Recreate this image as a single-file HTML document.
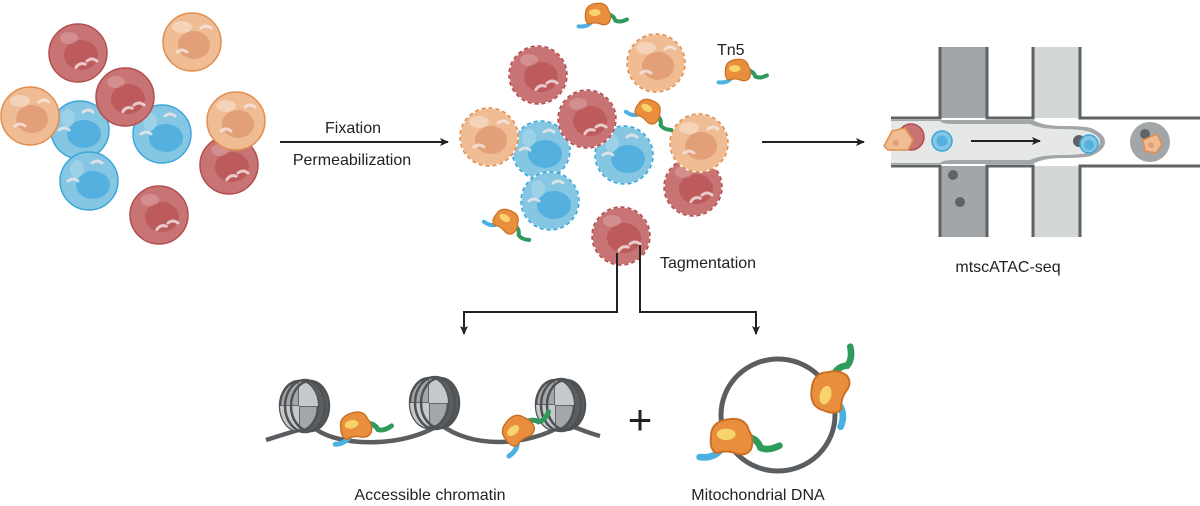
<!DOCTYPE html>
<html><head><meta charset="utf-8"><style>
html,body{margin:0;padding:0;background:#fff;}
svg{display:block}
text{font-family:"Liberation Sans",sans-serif;fill:#222;}
</style></head><body>
<svg width="1200" height="506" viewBox="0 0 1200 506" xmlns="http://www.w3.org/2000/svg">
<defs>
<g id="mito"><path d="M-5,0 q5,-4 10,0" stroke="#f4e7e7" stroke-width="3" fill="none" stroke-linecap="round" opacity="0.8"/></g>
<g id="red"><circle r="29" fill="#c87474" stroke="#b34e50" stroke-width="1.5"/><ellipse cx="3" cy="2" rx="17" ry="15" fill="#bd5a5c"/><ellipse cx="-9" cy="-15" rx="9" ry="6" fill="#fff" opacity="0.2"/><use href="#mito" x="-2" y="13" transform="rotate(-20)"/><use href="#mito" x="14" y="8"/></g>
<g id="org"><circle r="29" fill="#efbc93" stroke="#e28e4e" stroke-width="1.5"/><ellipse cx="2" cy="3" rx="16" ry="14" fill="#e39f77"/><ellipse cx="-10" cy="-15" rx="10" ry="6" fill="#fff" opacity="0.35"/><use href="#mito" x="14" y="-14"/><use href="#mito" x="-10" y="10"/></g>
<g id="blu"><circle r="29" fill="#85c6e2" stroke="#3da7db" stroke-width="1.5"/><ellipse cx="4" cy="4" rx="17" ry="14" fill="#54b0df"/><ellipse cx="-12" cy="-12" rx="7" ry="9" fill="#fff" opacity="0.2"/><use href="#mito" x="8" y="-18"/><use href="#mito" x="-16" y="0"/></g>
<g id="redd"><use href="#red"/><circle r="29" fill="none" stroke="#fff" stroke-width="1.6" stroke-dasharray="3 4"/></g>
<g id="orgd"><use href="#org"/><circle r="29" fill="none" stroke="#fff" stroke-width="1.6" stroke-dasharray="3 4"/></g>
<g id="blud"><use href="#blu"/><circle r="29" fill="none" stroke="#fff" stroke-width="1.6" stroke-dasharray="3 4"/></g>
<g id="tn5"><path d="M6,-2 q8,0 10,6 q4,2 10,-1" stroke="#2e9b5d" stroke-width="3.5" fill="none" stroke-linecap="round"/><path d="M-4,4 q-4,6 -12,5" stroke="#4bb1e2" stroke-width="3.5" fill="none" stroke-linecap="round"/><path d="M-10,-2 q0,-8 10,-9 q8,-1 10,6 q3,5 1,10 q-3,4 -8,2 q-5,-2 -10,0 q-4,-2 -3,-9z" fill="#e88e3c" stroke="#c96f25" stroke-width="1"/><ellipse cx="-2" cy="-3" rx="5" ry="3" fill="#f7d36a"/></g>
<g id="nuc"><ellipse cx="6" rx="20" ry="26" fill="#5b5e61"/><ellipse cx="-3" rx="19" ry="25" fill="#a3a7aa" stroke="#4f5254" stroke-width="2.5"/><path d="M-3,-25 v50 M-22,0 h38" stroke="#4f5254" stroke-width="1.5"/><path d="M-3,-25 a19 25 0 0 1 19 25 h-19z" fill="#c6c9cb"/><path d="M-3,0 h-19 a19 25 0 0 0 19 25z" fill="#c6c9cb"/><ellipse cx="3" rx="20" ry="26" fill="none" stroke="#4f5254" stroke-width="2.5"/><ellipse cx="8" rx="19" ry="25" fill="none" stroke="#4f5254" stroke-width="2.5"/></g>
<marker id="ah" markerWidth="10" markerHeight="10" refX="8" refY="5" orient="auto" markerUnits="userSpaceOnUse"><path d="M0,1 L9,5 L0,9 L2,5z" fill="#222"/></marker>
</defs>

<!-- left cluster -->
<use href="#red" x="78" y="53"/>
<use href="#org" x="192" y="42"/>
<use href="#blu" x="80" y="130"/>
<use href="#blu" x="162" y="134"/>
<use href="#red" x="125" y="97"/>
<use href="#org" x="30" y="116"/>
<use href="#red" x="229" y="165"/>
<use href="#org" x="236" y="121"/>
<use href="#blu" x="89" y="181"/>
<use href="#red" x="159" y="215"/>

<line x1="280" y1="142" x2="448" y2="142" stroke="#222" stroke-width="2" marker-end="url(#ah)"/>
<text x="353" y="133" font-size="16" text-anchor="middle">Fixation</text>
<text x="352" y="165" font-size="16" text-anchor="middle">Permeabilization</text>

<!-- center cluster -->
<use href="#redd" x="538" y="75"/>
<use href="#orgd" x="656" y="63"/>
<use href="#blud" x="541" y="150"/>
<use href="#blud" x="624" y="155"/>
<use href="#redd" x="587" y="119"/>
<use href="#orgd" x="489" y="137"/>
<use href="#redd" x="693" y="187"/>
<use href="#orgd" x="699" y="143"/>
<use href="#blud" x="550" y="201"/>
<use href="#redd" x="621" y="236"/>
<g transform="translate(597 16) scale(1.15)"><use href="#tn5"/></g>
<g transform="translate(737 72) scale(1.15)"><use href="#tn5"/></g>
<g transform="translate(647 112) rotate(30) scale(1.15)"><use href="#tn5"/></g>
<g transform="translate(505 222) rotate(30) scale(1.15)"><use href="#tn5"/></g>
<text x="717" y="55" font-size="16">Tn5</text>
<text x="660" y="268" font-size="16">Tagmentation</text>

<polyline points="617,253 617,312 464,312 464,334" fill="none" stroke="#222" stroke-width="2" marker-end="url(#ah)"/>
<polyline points="640,245 640,312 756,312 756,334" fill="none" stroke="#222" stroke-width="2" marker-end="url(#ah)"/>

<line x1="762" y1="142" x2="864" y2="142" stroke="#222" stroke-width="2" marker-end="url(#ah)"/>

<!-- microfluidics -->
<rect x="940" y="47" width="47" height="190" fill="#a2a6a8"/>
<rect x="1033" y="47" width="47" height="190" fill="#d3d7d8"/>
<rect x="891" y="118" width="309" height="48" fill="#fff"/>
<path d="M891,120 H1033 q10,6 30,6 q20,0 28,2 q14,6 14,14 q0,8 -14,14 q-8,2 -28,2 q-20,0 -30,6 H891z" fill="#a2a6a8"/>
<path d="M891,121 H940 q3,3 12,3 H1030 q10,5 30,5 q22,0 30,3 q10,4 10,10 q0,6 -10,10 q-8,3 -30,3 q-20,0 -30,5 H952 q-9,0 -12,3 H891z" fill="#e6e8e8"/>
<g stroke="#5f6366" stroke-width="3" fill="none">
<path d="M891,118 H940 V47 M987,47 V118 H1033 V47 M1080,47 V118 H1200"/>
<path d="M891,166 H940 V237 M987,237 V166 H1033 V237 M1080,237 V166 H1200"/>
</g>
<circle cx="1150" cy="142" r="20" fill="#a2a6a8"/>
<circle cx="1145" cy="134" r="5" fill="#5f6366"/>
<path d="M1143,140 l14,-6 l5,10 l-6,9 l-11,-2z" fill="#efbc93" stroke="#e28e4e" stroke-width="1.5"/>
<circle cx="1151" cy="145" r="3" fill="#e39f77"/>
<circle cx="953" cy="175" r="5" fill="#5f6366"/>
<circle cx="960" cy="202" r="5" fill="#5f6366"/>
<circle cx="1079" cy="141" r="6" fill="#5f6366"/>
<circle cx="1089" cy="144" r="9" fill="#85c6e2" stroke="#3da7db" stroke-width="1.5"/>
<circle cx="1089" cy="145" r="5" fill="#54b0df"/>
<circle cx="911" cy="137" r="13" fill="#c87474" stroke="#b34e50" stroke-width="1.5"/>
<path d="M884,146 l8,-15 l13,-3 l8,12 l-5,10 l-20,0z" fill="#efbc93" stroke="#e28e4e" stroke-width="1.5"/>
<circle cx="896" cy="143" r="3" fill="#e39f77"/>
<circle cx="942" cy="141" r="10" fill="#85c6e2" stroke="#3da7db" stroke-width="1.5"/>
<circle cx="942" cy="141" r="5.5" fill="#54b0df"/>
<line x1="971" y1="141" x2="1040" y2="141" stroke="#222" stroke-width="2" marker-end="url(#ah)"/>
<text x="1008" y="272" font-size="16" text-anchor="middle">mtscATAC-seq</text>

<!-- chromatin -->
<path d="M266,440 C285,434 298,430 312,426 C335,448 405,448 440,424 C470,448 525,448 565,424 C578,428 588,433 600,436" fill="none" stroke="#5b5e61" stroke-width="4.5"/>
<use href="#nuc" x="302" y="406"/>
<use href="#nuc" x="432" y="403"/>
<use href="#nuc" x="558" y="405"/>
<g transform="translate(355 428) rotate(-10) scale(1.4)"><use href="#tn5"/></g>
<g transform="translate(518 432) rotate(-40) scale(1.4)"><use href="#tn5"/></g>
<text x="640" y="434" font-size="42" text-anchor="middle" fill="#222">+</text>

<!-- mito DNA -->
<ellipse cx="778" cy="415" rx="57" ry="56" fill="none" stroke="#5b5e61" stroke-width="5"/>
<g transform="translate(832 393) rotate(-75) scale(1.9)"><use href="#tn5"/></g>
<g transform="translate(730 440) scale(1.9)"><use href="#tn5"/></g>
<text x="430" y="500" font-size="16" text-anchor="middle">Accessible chromatin</text>
<text x="758" y="500" font-size="16" text-anchor="middle">Mitochondrial DNA</text>
</svg>
</body></html>
